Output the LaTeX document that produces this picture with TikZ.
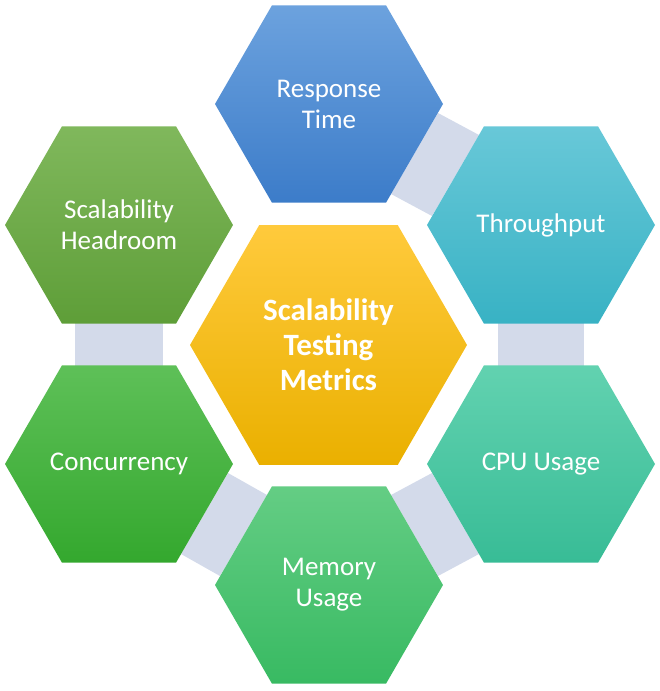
\documentclass[tikz,border=0pt]{standalone}
\usepackage{fontspec}
\setmainfont{Carlito}
\usetikzlibrary{shapes.geometric}
\definecolor{band}{HTML}{D3DAEA}
\tikzset{
 hexo/.style={regular polygon,regular polygon sides=6,minimum size=228pt,inner sep=0pt,
   text=white,font=\fontsize{27}{31}\selectfont,align=center},
 hexc/.style={regular polygon,regular polygon sides=6,minimum size=277pt,inner sep=0pt,
   text=white,font=\bfseries\fontsize{31}{35}\selectfont,align=center},
 bandf/.style={fill=band}
}
\begin{document}
\begin{tikzpicture}[x=1pt,y=-1pt]
\useasboundingbox (0,0) rectangle (659,691);
% connectors
\fill[bandf] (438,113) -- (391,194) -- (432,216) -- (479,135) -- cycle;
\fill[bandf] (498,323) -- (584,323) -- (584,366) -- (498,366) -- cycle;
\fill[bandf] (432,473) -- (479,554) -- (438,576) -- (391,495) -- cycle;
\fill[bandf] (267,495) -- (220,576) -- (181,554) -- (228,473) -- cycle;
\fill[bandf] (75,323) -- (163,323) -- (163,366) -- (75,366) -- cycle;
% hexagons
\node[hexo,top color={rgb,255:red,108;green,162;blue,222},bottom color={rgb,255:red,60;green,124;blue,201}] (rt) at (329,104) {Response\\Time};
\node[hexo,top color={rgb,255:red,104;green,200;blue,216},bottom color={rgb,255:red,56;green,178;blue,196}] (tp) at (541,225) {Throughput};
\node[hexo,top color={rgb,255:red,98;green,210;blue,176},bottom color={rgb,255:red,56;green,188;blue,150}] (cpu) at (541,464) {CPU Usage};
\node[hexo,top color={rgb,255:red,100;green,205;blue,132},bottom color={rgb,255:red,56;green,186;blue,98}] (mem) at (329,585) {Memory\\Usage};
\node[hexo,top color={rgb,255:red,94;green,192;blue,88},bottom color={rgb,255:red,52;green,168;blue,46}] (con) at (119,464) {Concurrency};
\node[hexo,top color={rgb,255:red,128;green,184;blue,92},bottom color={rgb,255:red,94;green,158;blue,56}] (sh) at (119,225) {Scalability\\Headroom};
\node[hexc,top color={rgb,255:red,255;green,202;blue,60},bottom color={rgb,255:red,234;green,176;blue,0}] (c) at (328.5,345) {Scalability\\Testing\\Metrics};
\end{tikzpicture}
\end{document}
